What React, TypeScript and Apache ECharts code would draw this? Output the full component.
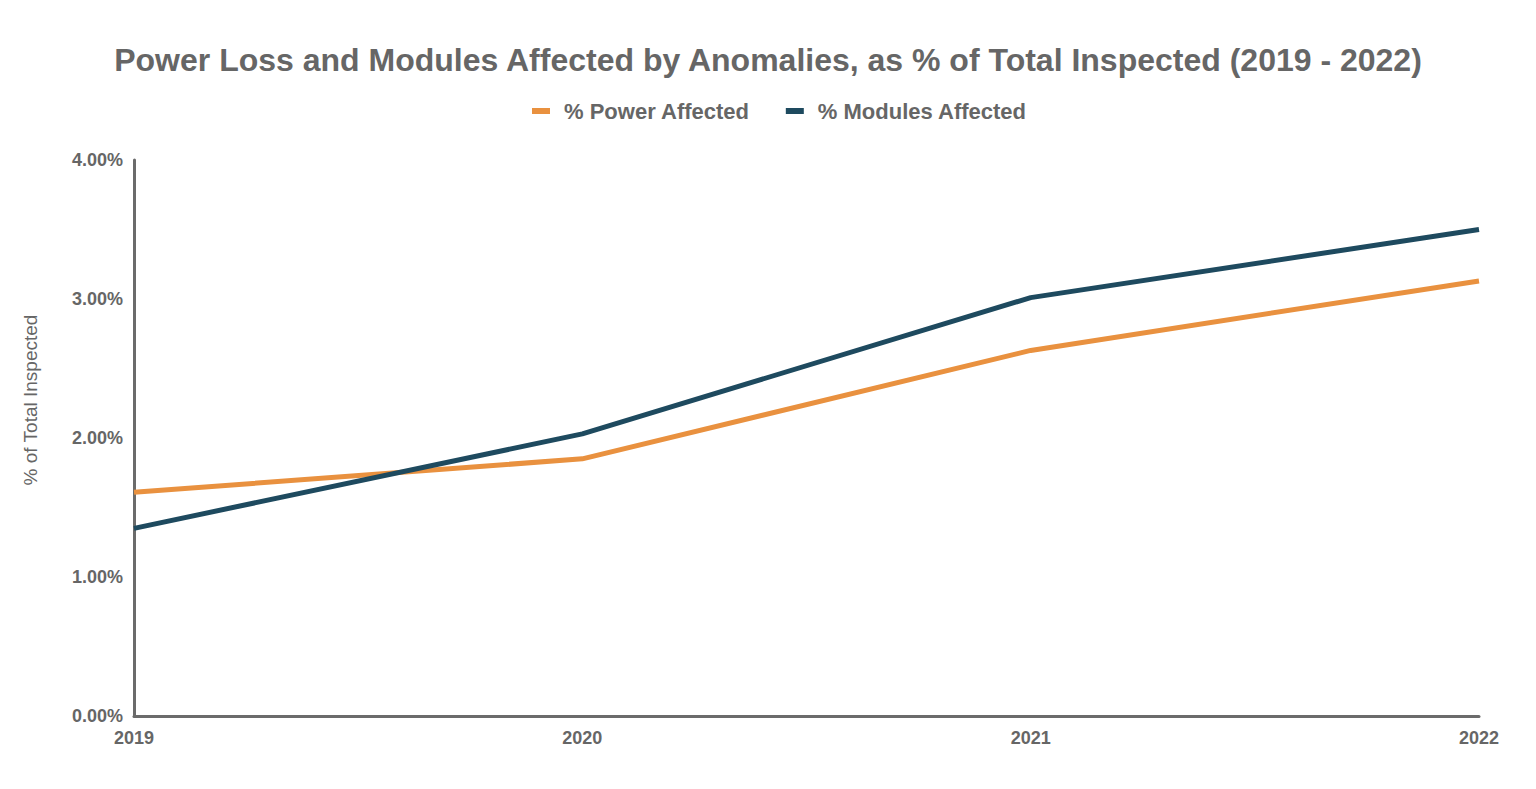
import React, { useEffect, useRef } from "react";
import * as echarts from "echarts";

const years = ["2019", "2020", "2021", "2022"];
const powerAffected = [1.61, 1.85, 2.63, 3.13];
const modulesAffected = [1.35, 2.03, 3.01, 3.5];
const seriesNames = ["% Power Affected", "% Modules Affected"];
const colors = ["#E9913F", "#1E4A5F"];

export default function App() {
  const ref = useRef<HTMLDivElement>(null);
  useEffect(() => {
    if (!ref.current) return;
    const chart = echarts.init(ref.current, undefined, { renderer: "svg" });
    const font = "Helvetica, Arial, 'Liberation Sans', sans-serif";
    chart.setOption({
      animation: false,
      backgroundColor: "#ffffff",
      textStyle: { fontFamily: font },
      title: {
        text: "Power Loss and Modules Affected by Anomalies, as % of Total Inspected (2019 - 2022)",
        left: "center",
        top: 39,
        textStyle: { color: "#666666", fontSize: 32, fontWeight: "bold", fontFamily: font },
      },
      legend: {
        top: 95,
        left: 527,
        itemGap: 36,
        itemWidth: 18,
        itemHeight: 6,
        icon: "rect",
        textStyle: { color: "#666666", fontSize: 22, fontWeight: "bold", fontFamily: font, padding: [0, 0, 0, 9] },
        data: seriesNames,
      },
      grid: { left: 134, right: 57, top: 160, bottom: 73, containLabel: false },
      xAxis: {
        type: "category",
        data: years,
        boundaryGap: false,
        axisLine: { lineStyle: { color: "#6b6b6b", width: 3 } },
        axisTick: { show: false },
        axisLabel: { color: "#666666", fontSize: 18, fontWeight: "bold", margin: 13, fontFamily: font },
        splitLine: { show: false },
      },
      yAxis: {
        type: "value",
        min: 0,
        max: 4,
        interval: 1,
        name: "% of Total Inspected",
        nameLocation: "middle",
        nameGap: 94,
        nameTextStyle: { color: "#666666", fontSize: 19, fontFamily: font, padding: [0, 0, 0, 76] },
        axisLine: { show: true, lineStyle: { color: "#6b6b6b", width: 3 } },
        axisTick: { show: false },
        splitLine: { show: false },
        axisLabel: {
          color: "#666666",
          fontSize: 18,
          fontWeight: "bold",
          margin: 11,
          fontFamily: font,
          formatter: (v: number) => v.toFixed(2) + "%",
        },
      },
      series: [
        {
          name: seriesNames[0],
          type: "line",
          data: powerAffected,
          symbol: "none",
          lineStyle: { color: colors[0], width: 5 },
          itemStyle: { color: colors[0] },
        },
        {
          name: seriesNames[1],
          type: "line",
          data: modulesAffected,
          symbol: "none",
          lineStyle: { color: colors[1], width: 5 },
          itemStyle: { color: colors[1] },
        },
      ],
    });
    return () => chart.dispose();
  }, []);
  return <div ref={ref} style={{ position: "fixed", left: 0, top: 0, width: 1536, height: 789 }} />;
}
